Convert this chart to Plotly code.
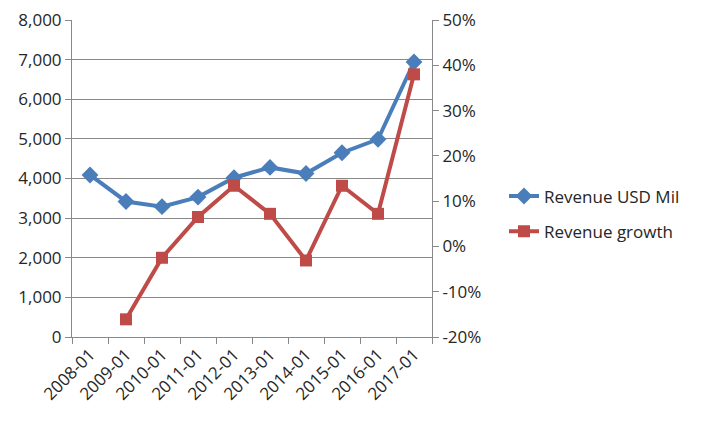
import plotly.graph_objects as go

periods = ["2008-01", "2009-01", "2010-01", "2011-01", "2012-01",
           "2013-01", "2014-01", "2015-01", "2016-01", "2017-01"]
revenue = [4090, 3420, 3290, 3530, 4020, 4280, 4125, 4650, 4990, 6940]
growth = [None, -0.161, -0.025, 0.065, 0.134, 0.072, -0.031, 0.134, 0.072, 0.380]
growth_ticks = [-0.2, -0.1, 0.0, 0.1, 0.2, 0.3, 0.4, 0.5]
growth_labels = ["-20%", "-10%", "0%", "10%", "20%", "30%", "40%", "50%"]

blue = "#4A7EBB"
red = "#BE4B48"
grid = "#888888"
font = dict(family="Open Sans", size=17, color="#262626")

fig = go.Figure()

fig.add_trace(go.Scatter(
    x=periods, y=revenue, name="Revenue USD Mil", mode="lines+markers",
    line=dict(color=blue, width=4),
    marker=dict(symbol="diamond", size=13, color=blue),
    legendgroup="a",
))

fig.add_trace(go.Scatter(
    x=periods, y=growth, name="Revenue growth", mode="lines+markers",
    line=dict(color=red, width=4),
    marker=dict(symbol="square", size=12, color=red),
    yaxis="y2", legendgroup="b",
))

# page body has an 8px margin, so the margins are shifted by 8px
fig.update_layout(
    width=712, height=426,
    margin=dict(l=64, r=288, t=12, b=97),
    paper_bgcolor="white", plot_bgcolor="white",
    font=font,
    showlegend=True,
    legend=dict(x=1.2, y=0.5, xanchor="left", yanchor="top",
                tracegroupgap=10, font=dict(size=17),
                bgcolor="rgba(0,0,0,0)"),
    xaxis=dict(
        type="category", range=[-0.5, 9.5], automargin=False,
        tickson="boundaries", ticks="outside", ticklen=6, tickcolor=grid,
        showline=True, linecolor=grid, linewidth=1,
        showgrid=False, tickangle=-45, ticklabeloverflow="allow",
    ),
    yaxis=dict(
        range=[0, 8000], dtick=1000, tickformat=",", automargin=False,
        showgrid=True, gridcolor=grid, gridwidth=1,
        showline=True, linecolor=grid, ticks="outside", ticklen=6,
        tickcolor=grid, zeroline=False, ticklabeloverflow="allow",
    ),
    yaxis2=dict(
        overlaying="y", side="right", automargin=False,
        range=[-0.2, 0.5], tickmode="array",
        tickvals=growth_ticks, ticktext=growth_labels,
        showgrid=False, zeroline=False,
        showline=True, linecolor=grid, ticks="outside", ticklen=6,
        tickcolor=grid, ticklabeloverflow="allow",
    ),
)

fig.write_html("out.html")
